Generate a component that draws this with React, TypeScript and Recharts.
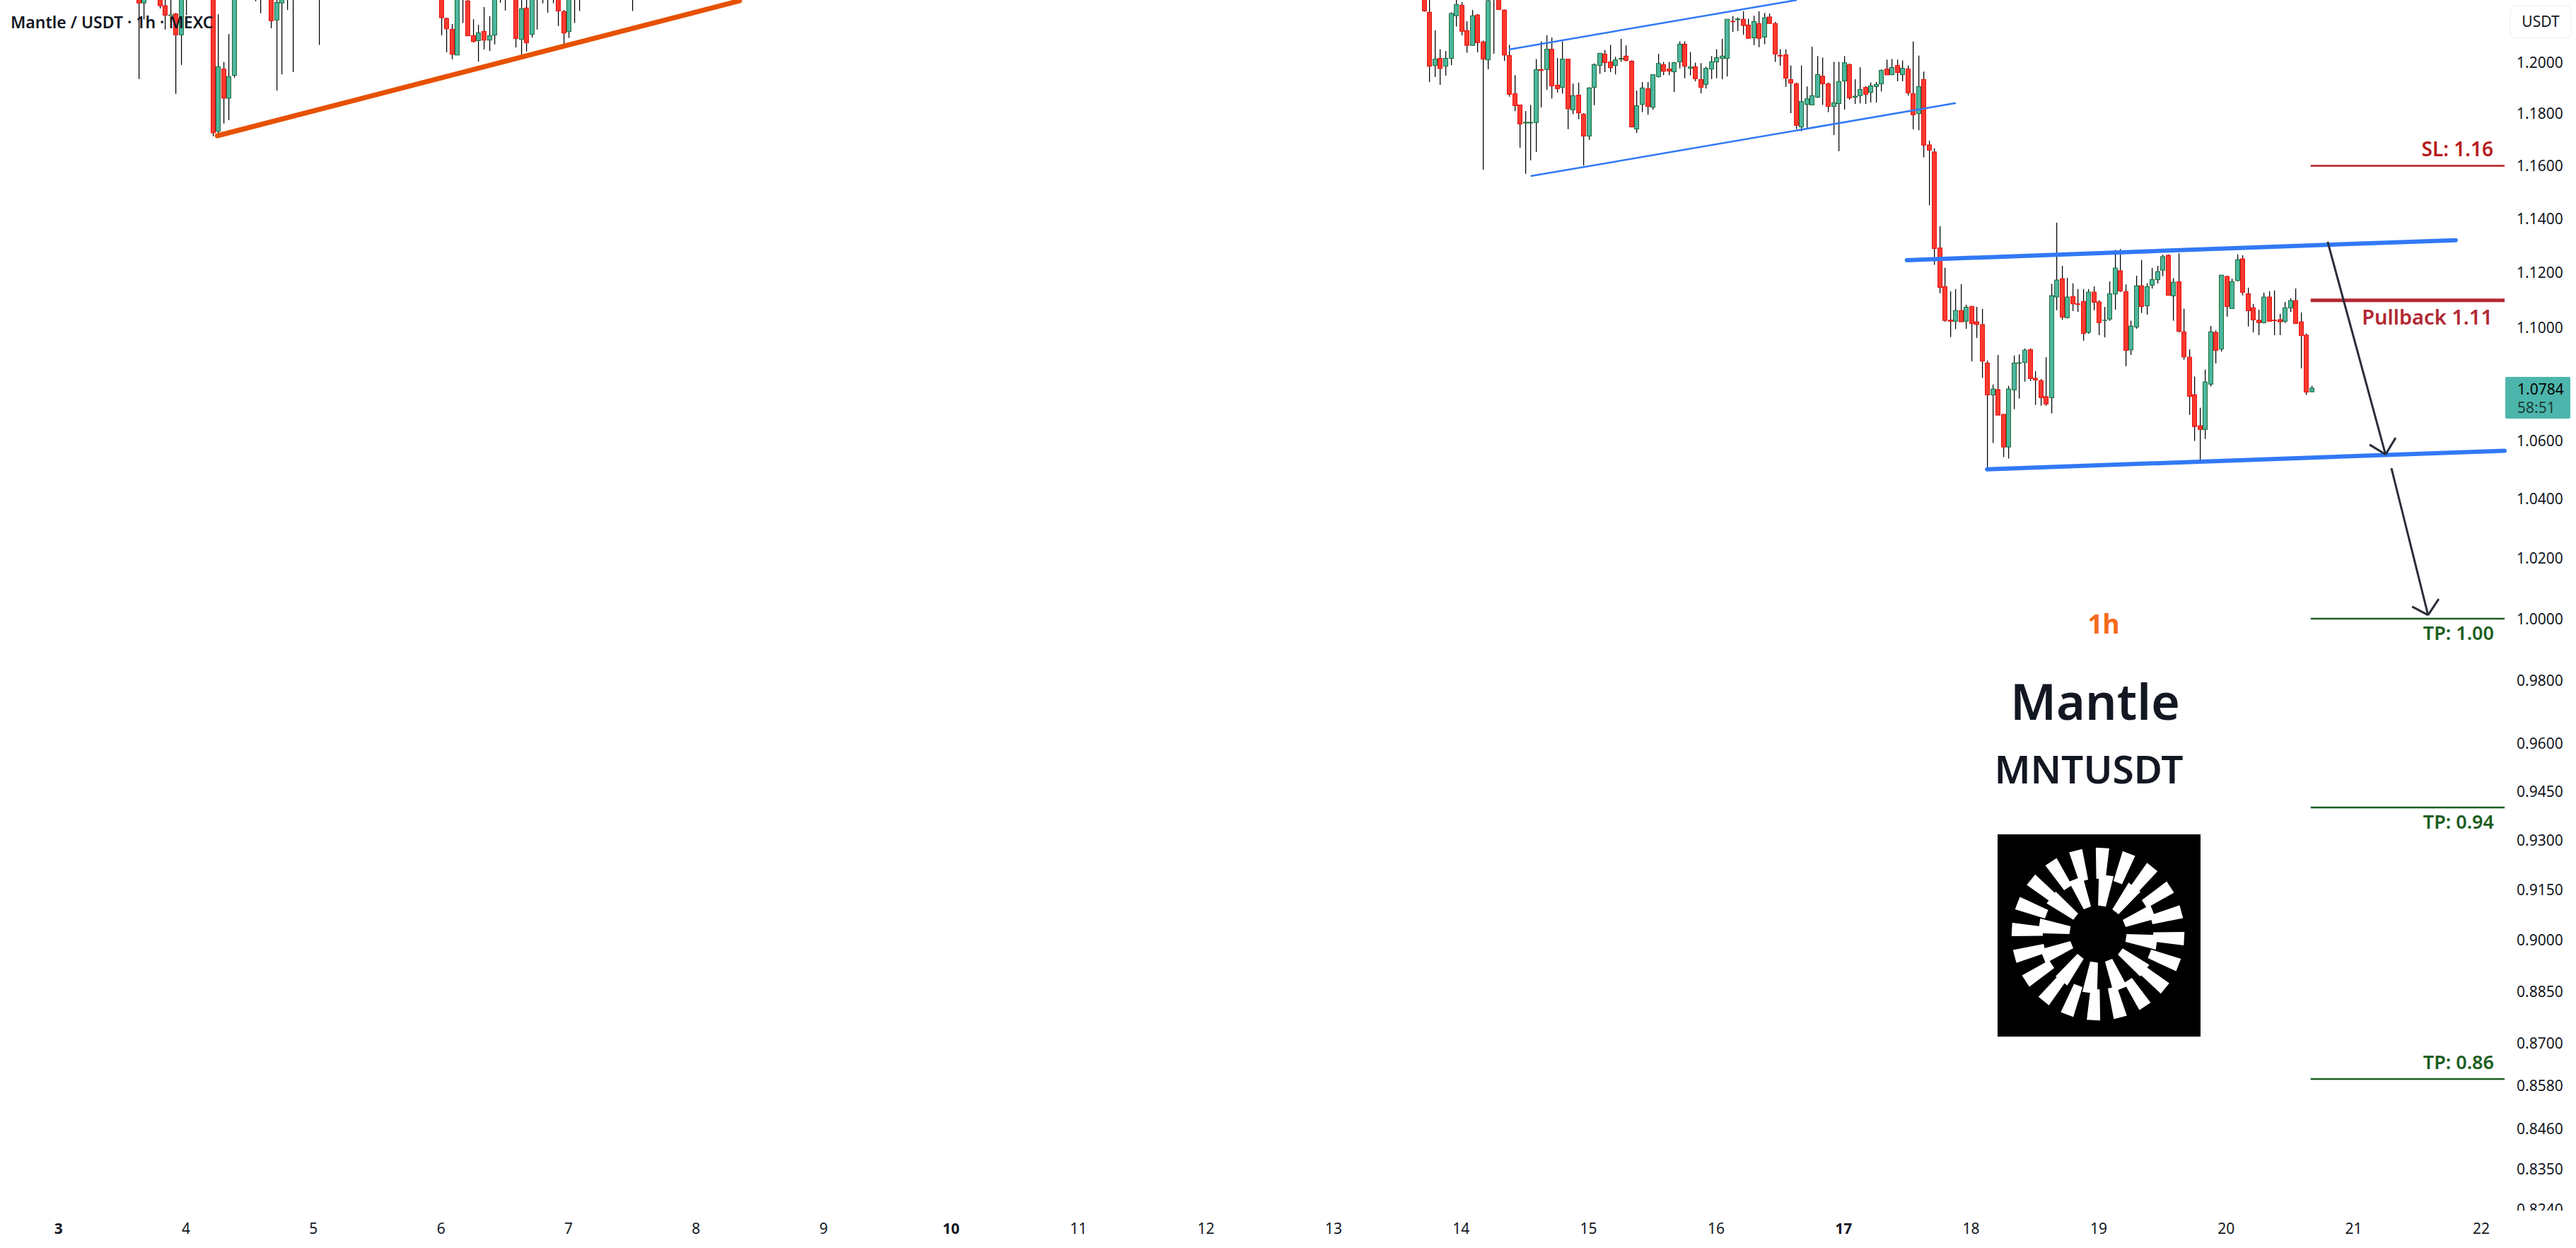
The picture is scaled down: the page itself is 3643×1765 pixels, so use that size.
import { ComposedChart, Bar, XAxis, YAxis, ReferenceLine } from 'recharts'

// hours since the "3" tick, one candle per hour (candles off the top of the view are left out)
const hours = [
  15, 16, 19, 20, 21, 22, 23, 24, 29, 30, 31, 32, 33, 37, 38, 40, 41, 42, 43, 44, 49,
  72, 73, 74, 75, 76, 77, 78, 79, 80, 81, 82, 83, 84, 86, 87, 88, 89, 90, 91, 92, 93, 94, 95, 96, 97, 98, 108,
  257, 258, 259, 260, 261, 262, 263, 264, 265, 266, 267, 268, 269, 270, 271, 272, 273, 274, 275, 276,
  277, 278, 279, 280, 281, 282, 283, 284, 285, 286, 287, 288, 289, 290, 291, 292, 293, 294, 295, 296,
  297, 298, 299, 300, 301, 302, 303, 304, 305, 306, 307, 308, 309, 310, 311, 312, 313, 314, 315, 316,
  317, 318, 319, 320, 321, 322, 323, 324, 325, 326, 327, 328, 329, 330, 331, 332, 333, 334, 335, 336,
  337, 338, 339, 340, 341, 342, 343, 344, 345, 346, 347, 348, 349, 350, 351,
  352, 353, 354, 355, 356, 357, 358, 359, 360, 361, 362, 363, 364, 365, 366, 367, 368, 369, 370, 371,
  372, 373, 374, 375, 376, 377, 378, 379, 380, 381, 382, 383, 384, 385, 386, 387, 388, 389, 390, 391,
  392, 393, 394, 395, 396, 397, 398, 399, 400, 401, 402, 403, 404, 405, 406, 407, 408, 409, 410, 411,
  412, 413, 414, 415, 416, 417, 418, 419, 420, 421, 422, 423, 424,
]

const opens = [
  1.23, 1.2236, 1.23, 1.2225, 1.2186, 1.2192, 1.2109, 1.23, 1.23, 1.1732, 1.1974, 1.186, 1.1949, 1.229, 1.229, 1.228, 1.2168, 1.2236, 1.229, 1.229, 1.229,
  1.229, 1.2174, 1.2131, 1.2029, 1.228, 1.2244, 1.2106, 1.2086, 1.2123, 1.2088, 1.2108, 1.228, 1.228, 1.228, 1.2091, 1.2216, 1.2111, 1.228, 1.228, 1.228, 1.228, 1.228, 1.2202, 1.2122, 1.228, 1.228, 1.228,
  1.229, 1.2199, 1.1988, 1.2016, 1.1985, 1.2016, 1.2185, 1.2227, 1.2126, 1.2067, 1.2188, 1.2081, 1.201, 1.225, 1.227, 1.2208, 1.2027, 1.1878, 1.1834, 1.1764,
  1.1764, 1.1766, 1.1972, 1.1972, 1.2052, 1.1911, 1.1902, 1.2013, 1.1815, 1.1872, 1.1798, 1.1714, 1.1902, 1.1988, 1.2033, 1.2002, 1.1988, 1.2013, 1.2025, 1.2005,
  1.1741, 1.1836, 1.1897, 1.1825, 1.1944, 1.1991, 1.1974, 1.1963, 1.2002, 1.2072, 1.1977, 1.1983, 1.1933, 1.1914, 1.1974, 1.2002, 1.2016, 1.2016, 1.2163, 1.2169,
  1.2171, 1.2148, 1.2097, 1.2154, 1.21, 1.218, 1.2154, 1.2028, 1.203, 1.1933, 1.1916, 1.1749, 1.1836, 1.1834, 1.1864, 1.1946, 1.1916, 1.1828, 1.1839, 1.1927,
  1.1991, 1.1864, 1.187, 1.1902, 1.1883, 1.1905, 1.1916, 1.1974, 1.1952, 1.1988, 1.1952, 1.1974, 1.1878, 1.18, 1.1933,
  1.168, 1.1653, 1.1292, 1.115, 1.1028, 1.1024, 1.1063, 1.1024, 1.1078, 1.1022, 1.1012, 1.0874, 1.0761, 1.078, 1.0693, 1.0579, 1.0779, 1.0873, 1.0876, 1.0922,
  1.082, 1.0812, 1.0755, 1.0751, 1.1112, 1.1179, 1.1037, 1.1114, 1.1087, 1.1096, 1.0984, 1.113, 1.1094, 1.1027, 1.1032, 1.1123, 1.1208, 1.1132, 1.0921, 1.1003,
  1.1153, 1.108, 1.1155, 1.1175, 1.121, 1.1265, 1.1116, 1.1168, 1.0986, 1.0895, 1.0762, 1.0653, 1.064, 1.0799, 1.0984, 1.0924, 1.1187, 1.107, 1.1172, 1.1252,
  1.1124, 1.1073, 1.1028, 1.1019, 1.1112, 1.1028, 1.103, 1.1024, 1.1072, 1.1099, 1.1022, 1.0974, 1.0772,
]

const highs = [
  1.232, 1.23, 1.232, 1.2255, 1.226, 1.2196, 1.229, 1.233, 1.232, 1.2191, 1.2002, 1.2112, 1.229, 1.232, 1.232, 1.23, 1.227, 1.229, 1.232, 1.232, 1.232,
  1.23, 1.2178, 1.2152, 1.228, 1.23, 1.2255, 1.2171, 1.2149, 1.222, 1.2183, 1.228, 1.23, 1.23, 1.23, 1.226, 1.2255, 1.228, 1.23, 1.23, 1.23, 1.23, 1.23, 1.2208, 1.228, 1.23, 1.23, 1.23,
  1.23, 1.226, 1.2127, 1.2052, 1.2045, 1.2199, 1.2255, 1.224, 1.2163, 1.2208, 1.2192, 1.2086, 1.2262, 1.227, 1.2285, 1.221, 1.2069, 1.195, 1.1834, 1.181,
  1.1834, 1.2013, 1.2083, 1.2107, 1.2098, 1.2017, 1.2083, 1.2013, 1.1917, 1.1921, 1.1802, 1.1903, 1.1996, 1.2036, 1.2049, 1.2069, 1.2022, 1.2093, 1.2067, 1.2008,
  1.189, 1.1923, 1.1923, 1.1952, 1.2034, 1.2002, 1.2002, 1.2002, 1.2083, 1.2083, 1.2041, 1.1999, 1.1997, 1.1983, 1.2025, 1.2052, 1.2093, 1.2171, 1.2184, 1.2178,
  1.2203, 1.2173, 1.2185, 1.2203, 1.2196, 1.2194, 1.216, 1.2052, 1.2052, 1.1988, 1.1921, 1.1988, 1.1906, 1.2062, 1.2025, 1.2019, 1.1921, 1.2002, 1.2002, 1.2025,
  1.1996, 1.1934, 1.1981, 1.1907, 1.1921, 1.1923, 1.1972, 1.2011, 1.2013, 1.2011, 1.2008, 1.1988, 1.2083, 1.2027, 1.1964,
  1.1696, 1.1667, 1.1373, 1.1219, 1.1133, 1.1141, 1.1159, 1.1084, 1.1078, 1.1076, 1.1069, 1.0883, 1.0798, 1.0903, 1.0693, 1.0793, 1.0901, 1.0905, 1.0926, 1.0926,
  1.0845, 1.0817, 1.0895, 1.116, 1.1386, 1.1226, 1.1182, 1.1162, 1.1141, 1.1141, 1.1141, 1.1151, 1.11, 1.1076, 1.1169, 1.1285, 1.1288, 1.1158, 1.1026, 1.119,
  1.1248, 1.1162, 1.1218, 1.1226, 1.1268, 1.1268, 1.1181, 1.1272, 1.1069, 1.0923, 1.0826, 1.0716, 1.0851, 1.1007, 1.0991, 1.1192, 1.119, 1.1179, 1.1268, 1.1265,
  1.1146, 1.1087, 1.1066, 1.1128, 1.1133, 1.1136, 1.1051, 1.1094, 1.1107, 1.1143, 1.1056, 1.098, 1.0793,
]

const lows = [
  1.1935, 1.217, 1.2214, 1.213, 1.2186, 1.1877, 1.199, 1.2187, 1.1713, 1.1715, 1.1762, 1.1775, 1.194, 1.2243, 1.2195, 1.2135, 1.189, 1.1953, 1.2208, 1.1962, 1.2069,
  1.2107, 1.204, 1.2012, 1.2029, 1.2156, 1.2105, 1.2079, 1.2003, 1.2051, 1.2045, 1.2071, 1.2237, 1.2206, 1.2059, 1.2012, 1.2043, 1.2098, 1.213, 1.2235, 1.2197, 1.2235, 1.2144, 1.2059, 1.2097, 1.2156, 1.2204, 1.2204,
  1.2201, 1.1923, 1.1943, 1.1912, 1.1948, 1.1989, 1.2142, 1.2107, 1.2038, 1.2067, 1.204, 1.1585, 1.1973, 1.2034, 1.2208, 1.2006, 1.1866, 1.181, 1.1669, 1.157,
  1.1621, 1.1653, 1.1825, 1.1893, 1.1859, 1.1882, 1.1878, 1.174, 1.1798, 1.1779, 1.1601, 1.1699, 1.1833, 1.1955, 1.1962, 1.1962, 1.1953, 1.2002, 1.2004, 1.1747,
  1.1726, 1.1806, 1.1796, 1.1815, 1.1941, 1.195, 1.195, 1.1884, 1.1976, 1.1938, 1.1949, 1.1926, 1.1879, 1.1898, 1.1935, 1.1938, 1.1934, 1.1945, 1.2121, 1.2124,
  1.2109, 1.2095, 1.2068, 1.206, 1.2072, 1.2154, 1.2002, 1.1987, 1.1904, 1.1802, 1.1741, 1.1732, 1.1744, 1.1834, 1.1861, 1.1834, 1.1806, 1.1718, 1.1656, 1.1816,
  1.1854, 1.1838, 1.184, 1.1838, 1.1843, 1.1843, 1.1886, 1.1951, 1.195, 1.1926, 1.1926, 1.187, 1.174, 1.1736, 1.1632,
  1.1451, 1.123, 1.1126, 1.1022, 1.0967, 1.0996, 1.1022, 1.0997, 1.088, 1.0964, 1.0821, 1.0502, 1.0593, 1.069, 1.0544, 1.0539, 1.0711, 1.0748, 1.0808, 1.081,
  1.0726, 1.0723, 1.0723, 1.0696, 1.1064, 1.1029, 1.1034, 1.1061, 1.1058, 1.0954, 1.0979, 1.1064, 1.0974, 1.0966, 1.1026, 1.1066, 1.113, 1.0863, 1.0903, 1.0997,
  1.1054, 1.1048, 1.1143, 1.1161, 1.1188, 1.1118, 1.1026, 1.0984, 1.0886, 1.0691, 1.06, 1.0521, 1.0607, 1.0791, 1.0873, 1.0915, 1.1041, 1.107, 1.1169, 1.1118,
  1.1005, 1.0984, 1.0974, 1.1016, 1.1024, 1.0974, 1.0974, 1.1018, 1.1058, 1.1014, 1.0855, 1.0761, 1.0771,
]

const closes = [
  1.2236, 1.229, 1.2225, 1.2187, 1.2188, 1.2109, 1.226, 1.231, 1.1726, 1.1983, 1.186, 1.1944, 1.226, 1.23, 1.23, 1.2165, 1.2238, 1.227, 1.23, 1.23, 1.23,
  1.2177, 1.2133, 1.2032, 1.226, 1.229, 1.2105, 1.2082, 1.2117, 1.2088, 1.2106, 1.226, 1.229, 1.229, 1.2094, 1.2213, 1.2077, 1.226, 1.229, 1.229, 1.229, 1.229, 1.2204, 1.2116, 1.226, 1.229, 1.229, 1.229,
  1.2204, 1.1985, 1.2013, 1.1976, 1.2016, 1.2194, 1.223, 1.2123, 1.2067, 1.2185, 1.2078, 1.2013, 1.2245, 1.2256, 1.221, 1.2029, 1.1875, 1.1831, 1.176, 1.1767,
  1.1767, 1.1972, 1.1968, 1.2052, 1.1908, 1.1897, 1.2013, 1.1819, 1.187, 1.1803, 1.1714, 1.19, 1.1991, 1.2036, 1.1999, 1.1979, 1.201, 1.2016, 1.2008, 1.1749,
  1.1831, 1.19, 1.1828, 1.1952, 1.1996, 1.1965, 1.1966, 1.1999, 1.2072, 1.1985, 1.1982, 1.1936, 1.1902, 1.1977, 1.2002, 1.2019, 1.2025, 1.2171, 1.2161, 1.2172,
  1.2146, 1.2095, 1.2162, 1.2095, 1.2177, 1.2154, 1.2033, 1.2025, 1.1938, 1.1919, 1.1755, 1.1847, 1.1858, 1.187, 1.1952, 1.1916, 1.1828, 1.1842, 1.1925, 1.1999,
  1.1861, 1.1868, 1.1894, 1.1875, 1.1908, 1.1914, 1.1969, 1.1951, 1.198, 1.196, 1.1977, 1.1881, 1.1796, 1.1905, 1.1679,
  1.166, 1.129, 1.1147, 1.1027, 1.1024, 1.1063, 1.1022, 1.1075, 1.1016, 1.1012, 1.0881, 1.0761, 1.0782, 1.069, 1.0579, 1.0782, 1.0874, 1.0875, 1.092, 1.0819,
  1.0814, 1.0751, 1.0729, 1.1117, 1.1174, 1.1039, 1.1112, 1.1087, 1.1085, 1.098, 1.113, 1.1093, 1.1019, 1.1028, 1.1124, 1.1218, 1.1134, 1.0919, 1.1007, 1.1153,
  1.1077, 1.115, 1.1176, 1.1205, 1.126, 1.1118, 1.1166, 1.0988, 1.0896, 1.0756, 1.065, 1.064, 1.0807, 1.0986, 1.0919, 1.1192, 1.1077, 1.1168, 1.1249, 1.1129,
  1.1062, 1.1029, 1.1019, 1.1112, 1.1024, 1.1026, 1.1022, 1.1073, 1.1099, 1.1016, 1.0973, 1.0771, 1.0785,
]

const dayLabels = [3, 4, 5, 6, 7, 8, 9, 10, 11, 12, 13, 14, 15, 16, 17, 18, 19, 20, 21, 22]
const boldDays = [3, 10, 17]
const dayHours = [0, 24, 48, 72, 96, 120, 144, 168, 192, 216, 240, 264, 288, 312, 336, 360, 384, 408, 432, 456]
const priceTicks = [
  1.2, 1.18, 1.16, 1.14, 1.12, 1.1, 1.06, 1.04, 1.02, 1.0, 0.98, 0.96, 0.945, 0.93, 0.915, 0.9, 0.885, 0.87, 0.858,
  0.846, 0.835, 0.824,
]

// drawings: [hour, price, hour, price]
const orangeTrend = [29.9, 1.1715, 128.2, 1.2245]
const thinChannel = [
  [273, 1.2051, 327.2, 1.2248],
  [277.1, 1.1561, 357.1, 1.1841],
]
const wideChannel = [
  [347.9, 1.1247, 451.2, 1.1321],
  [363, 1.0502, 460.4, 1.0566],
]
const arrowLines = [
  [427.1, 1.1315, 438, 1.0553],
  [435, 1.0587, 438, 1.0553],
  [439.9, 1.0611, 438, 1.0553],
  [439.1, 1.0506, 446, 1.0012],
  [443, 1.004, 446, 1.0012],
  [448, 1.0065, 446, 1.0012],
]
const levelStart = 423.9
const levelEnd = 460.4
const redLevels = [1.16]
const pullbackLevel = 1.11
const greenLevels = [1.0, 0.94, 0.86]

const X_DOMAIN = [-11, 460.4]
const Y_DOMAIN = [0.8237, 1.2248]
const FONT = '"Noto Sans", sans-serif'
const INK = '#131722'

const chartData = hours.map((hour, i) => ({
  hour,
  wick: [lows[i], highs[i]],
  body: [Math.min(opens[i], closes[i]), Math.max(opens[i], closes[i])],
  up: closes[i] >= opens[i],
}))

const seg = (s: number[]) =>
  [
    { x: s[0], y: s[1] },
    { x: s[2], y: s[3] },
  ] as any

// snap to whole pixels so wicks stay black and bodies stay crisp
function Wick({ x, y, height }: any) {
  if (!height) return null
  return <rect x={Math.round(x) + 1} y={y} width={1.25} height={height} fill="#000" />
}

function Body({ x, y, width, height, payload }: any) {
  if (!height) return null
  return (
    <rect
      x={Math.round(x) + 0.5}
      y={y}
      width={width}
      height={height}
      fill={payload.up ? '#4db6a0' : '#f83a2f'}
      stroke={payload.up ? '#1b6b33' : '#e81010'}
      strokeWidth={1}
    />
  )
}

function DayTick({ x, y, payload }: any) {
  const day = dayLabels[dayHours.indexOf(payload.value)]
  return (
    <text
      x={x}
      y={y}
      textAnchor="middle"
      dominantBaseline="middle"
      fontFamily={FONT}
      fontSize={21}
      fontWeight={boldDays.includes(day) ? 700 : 400}
      fill={INK}
    >
      {day}
    </text>
  )
}

// Mantle logo, sits over the chart as a picture
const outerRays = [3, 21, 39, 57, 75, 93, 111, 129, 147, 165, 183, 201, 219, 237, 255, 273, 291, 309, 327, 345]
const innerRays = [8, 38, 68, 98, 128, 158, 188, 218, 248, 278, 308, 338]

function ray(angle: number, r1: number, r2: number, w1: number, w2: number) {
  const a = (angle * Math.PI) / 180
  const dx = Math.sin(a)
  const dy = -Math.cos(a)
  const px = Math.cos(a)
  const py = Math.sin(a)
  const pts = [
    [dx * r1 - (px * w1) / 2, dy * r1 - (py * w1) / 2],
    [dx * r1 + (px * w1) / 2, dy * r1 + (py * w1) / 2],
    [dx * r2 + (px * w2) / 2, dy * r2 + (py * w2) / 2],
    [dx * r2 - (px * w2) / 2, dy * r2 - (py * w2) / 2],
  ]
  return pts.map(p => `${p[0].toFixed(1)},${p[1].toFixed(1)}`).join(' ')
}

function Overlay() {
  const textBase = { fontFamily: FONT }
  return (
    <svg width={3643} height={1765} style={{ position: 'absolute', left: 0, top: 0, pointerEvents: 'none' }}>
      <rect x={3543} y={1712} width={100} height={53} fill="#fff" />
      <text {...textBase} x={15} y={40} fontSize={23} fontWeight={600} fill={INK}>
        Mantle / USDT · 1h · MEXC
      </text>

      <rect x={3550} y={8} width={86} height={46} rx={8} fill="#fff" stroke="#f0f3fa" strokeWidth={1.5} />
      <text {...textBase} x={3593} y={38} fontSize={21} textAnchor="middle" fill={INK}>
        USDT
      </text>

      <rect x={3543} y={533} width={92} height={59} rx={2} fill="#4db6ac" />
      <text {...textBase} x={3560} y={558} fontSize={21} fill="#000">
        1.0784
      </text>
      <text {...textBase} x={3560} y={584} fontSize={21} fill="#1b3d38">
        58:51
      </text>

      <text {...textBase} x={3526} y={221} fontSize={28} fontWeight={600} textAnchor="end" fill="#b71c1c">
        SL: 1.16
      </text>
      <text {...textBase} x={3525} y={459} fontSize={29} fontWeight={600} textAnchor="end" fill="#b22833">
        Pullback 1.11
      </text>
      <text {...textBase} x={3527} y={905} fontSize={27} fontWeight={600} textAnchor="end" fill="#1b5e20">
        TP: 1.00
      </text>
      <text {...textBase} x={3527} y={1172} fontSize={27} fontWeight={600} textAnchor="end" fill="#1b5e20">
        TP: 0.94
      </text>
      <text {...textBase} x={3527} y={1512} fontSize={27} fontWeight={600} textAnchor="end" fill="#1b5e20">
        TP: 0.86
      </text>

      <text {...textBase} x={2975} y={896} fontSize={37} fontWeight={700} textAnchor="middle" fill="#f5691b">
        1h
      </text>
      <text {...textBase} x={2963} y={1018} fontSize={70} fontWeight={600} textAnchor="middle" fill={INK}>
        Mantle
      </text>
      <text {...textBase} x={2954} y={1108} fontSize={55} fontWeight={600} textAnchor="middle" fill={INK}>
        MNTUSDT
      </text>

      <rect x={2825} y={1180} width={287} height={286} fill="#000" />
      <g transform="translate(2967 1321)" fill="#fff">
        {outerRays.map(a => (
          <polygon key={`o${a}`} points={ray(a, 78, 122, 13, 19)} />
        ))}
        {innerRays.map(a => (
          <polygon key={`i${a}`} points={ray(a, 40, 84, 11, 21)} />
        ))}
      </g>
    </svg>
  )
}

export default function App() {
  return (
    <div style={{ position: 'absolute', left: 0, top: 0, width: 3643, height: 1765, background: '#fff' }}>
      <ComposedChart width={3643} height={1765} data={chartData} margin={{ top: 0, right: 0, bottom: 0, left: 0 }}>
        <XAxis
          dataKey="hour"
          type="number"
          domain={X_DOMAIN}
          allowDataOverflow
          ticks={dayHours}
          interval={0}
          height={53}
          tick={<DayTick />}
          tickLine={false}
          axisLine={false}
          tickSize={0}
          tickMargin={27}
        />
        <XAxis xAxisId="wick" dataKey="hour" type="number" domain={X_DOMAIN} allowDataOverflow ticks={dayHours} hide />
        <YAxis
          orientation="right"
          type="number"
          scale="log"
          domain={Y_DOMAIN}
          allowDataOverflow
          ticks={priceTicks}
          interval={0}
          width={101}
          tickFormatter={(v: number) => v.toFixed(4)}
          tick={{ fontFamily: FONT, fontSize: 21, fill: INK }}
          tickLine={false}
          axisLine={false}
          tickSize={0}
          tickMargin={17}
        />

        <ReferenceLine segment={seg(orangeTrend)} stroke="#e65100" strokeWidth={7} strokeLinecap="round" ifOverflow="visible" />
        {thinChannel.map((s, i) => (
          <ReferenceLine key={`thin-${i}`} segment={seg(s)} stroke="#3179f5" strokeWidth={2.5} ifOverflow="visible" />
        ))}
        {wideChannel.map((s, i) => (
          <ReferenceLine key={`wide-${i}`} segment={seg(s)} stroke="#3179f5" strokeWidth={6} strokeLinecap="round" ifOverflow="visible" />
        ))}
        {redLevels.map(v => (
          <ReferenceLine key={`sl-${v}`} segment={seg([levelStart, v, levelEnd, v])} stroke="#b71c1c" strokeWidth={2.5} ifOverflow="visible" />
        ))}
        <ReferenceLine segment={seg([levelStart, pullbackLevel, levelEnd, pullbackLevel])} stroke="#b22833" strokeWidth={5} ifOverflow="visible" />
        {greenLevels.map(v => (
          <ReferenceLine key={`tp-${v}`} segment={seg([levelStart, v, levelEnd, v])} stroke="#1b5e20" strokeWidth={2.5} ifOverflow="visible" />
        ))}
        {arrowLines.map((s, i) => (
          <ReferenceLine key={`arrow-${i}`} segment={seg(s)} stroke="#2a2e39" strokeWidth={3} ifOverflow="visible" />
        ))}

        <Bar xAxisId="wick" dataKey="wick" barSize={1} shape={<Wick />} isAnimationActive={false} />
        <Bar dataKey="body" barSize={6} shape={<Body />} isAnimationActive={false} />
      </ComposedChart>
      <Overlay />
    </div>
  )
}
